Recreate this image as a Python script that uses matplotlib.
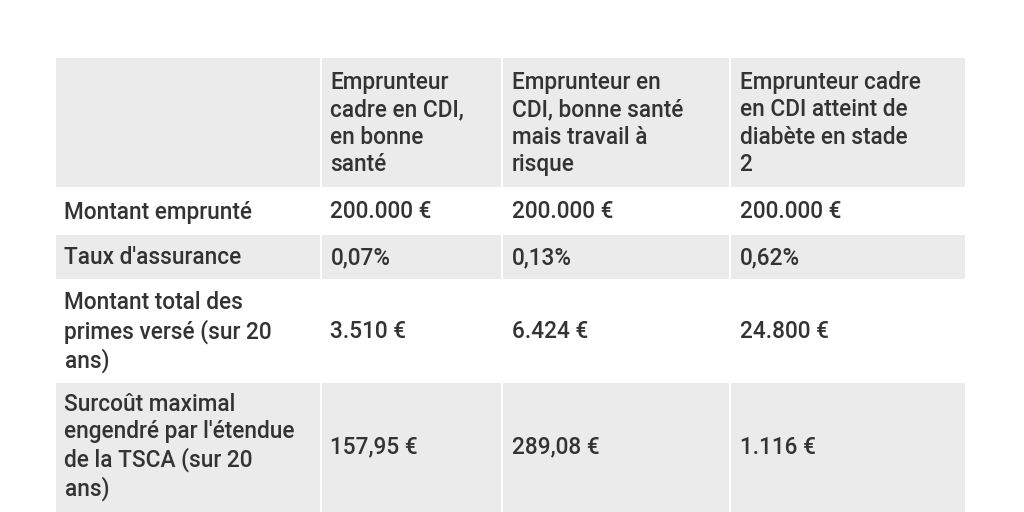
import matplotlib
matplotlib.use("Agg")
import matplotlib.pyplot as plt
from matplotlib.patches import Rectangle

headers = ["", "Emprunteur\ncadre en CDI,\nen bonne\nsanté", "Emprunteur en\nCDI, bonne santé\nmais travail à\nrisque", "Emprunteur cadre\nen CDI atteint de\ndiabète en stade\n2"]
row_labels = ["Montant emprunté", "Taux d'assurance", "Montant total des\nprimes versé (sur 20\nans)", "Surcoût maximal\nengendré par l'étendue\nde la TSCA (sur 20\nans)"]
col1 = ["200.000 €", "0,07%", "3.510 €", "157,95 €"]
col2 = ["200.000 €", "0,13%", "6.424 €", "289,08 €"]
col3 = ["200.000 €", "0,62%", "24.800 €", "1.116 €"]

fig = plt.figure(figsize=(10.24, 5.12), dpi=100)
ax = fig.add_axes([0, 0, 1, 1])
ax.set_xlim(0, 1024); ax.set_ylim(512, 0); ax.axis("off")

col_x = [(56, 320), (322, 501), (503, 729), (731, 965)]
row_y = [(58, 187), (189, 233), (235, 279), (281, 381), (383, 512)]
grey = "#ebebeb"
txt = "#333333"
rows = [headers] + [[row_labels[i], col1[i], col2[i], col3[i]] for i in range(4)]
for r, (y0, y1) in enumerate(row_y):
    fc = grey if r % 2 == 0 else "white"
    yc = (y0 + y1) / 2 if r < 4 else 446
    for c, (x0, x1) in enumerate(col_x):
        ax.add_patch(Rectangle((x0, y0), x1 - x0, y1 - y0, facecolor=fc, edgecolor="none"))
        ax.text(x0 + 8.5, yc + 1, rows[r][c], ha="left", va="center",
                fontsize=16.3, family="Roboto", color=txt, linespacing=1.23,
                fontweight="medium")
fig.savefig("out.png", dpi=100)
